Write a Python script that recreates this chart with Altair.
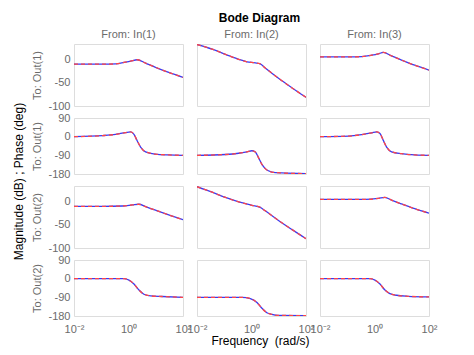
import altair as alt
import pandas as pd

# ---------- data (frequency in rad/s) ----------
# Out(1) magnitude (dB)
w11m = [0.01, 0.111, 0.34, 0.685, 1.2, 2.1, 4.23, 9.8, 30, 100]
v11m = [-11, -11, -10.3, -7.3, -4.4, -1.5, -8.8, -17.6, -28.6, -39]
w12m = [0.01, 0.036, 0.111, 0.34, 0.685, 1.38, 2.1, 3.2, 9.8, 30, 100]
v12m = [31, 21, 10, -0.7, -5.9, -8.1, -10.3, -19, -41, -61, -81.6]
w13m = [0.01, 0.111, 0.34, 0.79, 1.38, 2.1, 4.23, 9.8, 30, 100]
v13m = [4.4, 4.4, 5.1, 8.1, 11, 14, 6.6, -2.2, -13.2, -23.5]
# Out(1) phase (deg)
w11p = [0.01, 0.111, 0.34, 0.79, 1.2, 1.59, 2.1, 2.78, 4.23, 9.8, 30, 100]
v11p = [0, 5, 11, 20, 23, 11, -21, -50, -73, -84, -88, -90]
w12p = [0.01, 0.111, 0.34, 0.685, 1.04, 1.38, 1.82, 2.42, 3.2, 5.6, 12.9, 100]
v12p = [-90, -86, -80, -73, -68, -74, -102, -134, -154, -171, -175, -178]
w13p = [0.01, 0.111, 0.34, 0.79, 1.2, 1.59, 2.1, 2.78, 4.23, 9.8, 30, 100]
v13p = [0, 3, 10, 18, 23, 15, -18, -50, -73, -82, -88, -90]
# Out(2) magnitude (dB)
w21m = [0.01, 0.111, 0.6, 1.38, 2.42, 4.23, 9.8, 30, 100]
v21m = [-11.3, -11.3, -10.6, -8.4, -6.9, -12, -19.4, -29.6, -39.9]
w22m = [0.01, 0.036, 0.111, 0.34, 1.04, 2.1, 3.2, 9.8, 30, 100]
v22m = [30.5, 18.8, 7.6, -1.8, -9.1, -13.5, -20.8, -41.3, -60.4, -80.2]
w23m = [0.01, 0.45, 1.38, 2.42, 4.23, 9.8, 30, 100]
v23m = [3.4, 3.4, 5.6, 7.8, 1.9, -6.2, -16.4, -26]
# Out(2) phase (deg)
w21p = [0.01, 0.45, 0.685, 1.04, 1.59, 2.42, 3.67, 6.43, 17.1, 100]
v21p = [0, 0, 0, -7, -26, -55, -75, -83, -86, -90]
w22p = [0.01, 0.45, 0.905, 1.59, 2.42, 3.67, 5.6, 9.8, 100]
v22p = [-90, -90, -96, -115, -143, -164, -172, -177, -178]
w23p = [0.01, 0.685, 1.04, 1.59, 2.42, 3.67, 6.43, 17.1, 100]
v23p = [0, 0, -7, -26, -55, -72, -80, -85, -88]

inputs = ["From: In(1)", "From: In(2)", "From: In(3)"]
outputs = ["To: Out(1)", "To: Out(2)"]
mag_ticks = [-100, -50, 0]
phase_ticks = [-180, -90, 0, 90]
freq_ticks = [0.01, 1, 100]

GRAY = "#6b6b6b"
FONT = "Liberation Sans"
W = 109


def panel(w, v, kind, out_idx, col):
    is_mag = kind == "mag"
    df = pd.DataFrame({"w": w, "v": v})
    bottom = (not is_mag) and out_idx == 1
    left = col == 0
    if bottom:
        xaxis = alt.Axis(values=freq_ticks, labelExpr="datum.value < 0.1 ? '10\u207b\u00b2' : datum.value < 10 ? '10\u2070' : '10\u00b2'",
                         ticks=False, domain=False, grid=False, title=None, labelPadding=7,
                         labelFlush=False, labelOverlap=False, labelColor=GRAY, labelFontSize=11, labelFont=FONT)
    else:
        xaxis = None
    if left:
        yaxis = alt.Axis(values=mag_ticks if is_mag else phase_ticks, labelExpr="'' + datum.value",
                         ticks=False, domain=False, grid=False, title=outputs[out_idx],
                         titleColor=GRAY, titleFontWeight="normal", titleFontSize=11, titleFont=FONT,
                         titlePadding=5, labelPadding=4, labelFlush=False, labelOverlap=False,
                         labelColor=GRAY, labelFontSize=11, labelFont=FONT)
    else:
        yaxis = None
    base = alt.Chart(df).encode(
        x=alt.X("w:Q", scale=alt.Scale(type="log", domain=[0.01, 100], nice=False), axis=xaxis),
        y=alt.Y("v:Q", scale=alt.Scale(domain=[-100, 32] if is_mag else [-180, 90], nice=False, zero=False), axis=yaxis),
    )
    l1 = base.mark_line(color="#3b3bf0", strokeWidth=1.3, interpolate="monotone", clip=True)
    l2 = base.mark_line(color="#ff4545", strokeWidth=1.3, strokeDash=[4, 3], interpolate="monotone", clip=True)
    ch = alt.layer(l1, l2).properties(width=W, height=62 if is_mag else 56)
    if is_mag and out_idx == 0:
        ch = ch.properties(title=alt.TitleParams(inputs[col], color=GRAY, fontSize=11, fontWeight="normal",
                                                 font=FONT, offset=4))
    return ch


rows_data = [
    ("mag", 0, [(w11m, v11m), (w12m, v12m), (w13m, v13m)]),
    ("phase", 0, [(w11p, v11p), (w12p, v12p), (w13p, v13p)]),
    ("mag", 1, [(w21m, v21m), (w22m, v22m), (w23m, v23m)]),
    ("phase", 1, [(w21p, v21p), (w22p, v22p), (w23p, v23p)]),
]

panels = []
for kind, oi, pairs in rows_data:
    for c, (w, v) in enumerate(pairs):
        panels.append(panel(w, v, kind, oi, c))

grid = alt.concat(*panels, columns=3, spacing={"row": 12, "column": 14}, bounds="flush")
mid = alt.vconcat(grid, title=alt.TitleParams("Magnitude (dB) ; Phase (deg)", orient="left", anchor="middle",
                                               fontSize=12, fontWeight="normal", font=FONT, color="black",
                                               offset=5))
mid2 = alt.vconcat(mid, title=alt.TitleParams("Frequency \u00a0(rad/s)", orient="bottom", anchor="middle",
                                               fontSize=12, fontWeight="normal", font=FONT, color="black",
                                               offset=1, dx=35))
chart = alt.vconcat(mid2, title=alt.TitleParams("Bode Diagram", fontSize=12, fontWeight="bold", font=FONT,
                                                color="black", anchor="middle", offset=4, dx=34)).properties(
    padding={"top": 3, "left": 5, "right": 5, "bottom": 5}
).configure_view(
    stroke="#808080", strokeWidth=1
).configure(background="white")

chart.save("out.html", embed_options={"renderer": "svg", "actions": False})
